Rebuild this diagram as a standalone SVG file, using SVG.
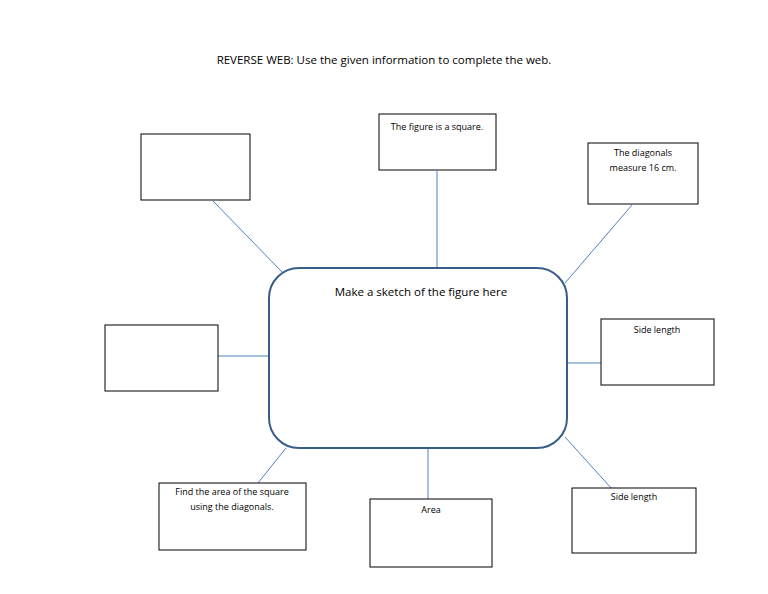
<svg xmlns="http://www.w3.org/2000/svg" width="768" height="594" viewBox="0 0 768 594">
<style>
.b{fill:#fff;stroke:#000;stroke-width:1}
.c{stroke:#4f81bd;stroke-width:1;fill:none}
text{font-family:"Open Sans","Liberation Sans",sans-serif;fill:#000;text-anchor:middle}
.s{font-size:9px}
</style>
<rect width="768" height="594" fill="#fff"/>
<text x="384" y="64" font-size="11.5">REVERSE WEB: Use the given information to complete the web.</text>
<g id="connectors">
<line class="c" x1="213" y1="201" x2="282" y2="272"/>
<line class="c" x1="437" y1="171" x2="437" y2="268"/>
<line class="c" x1="632" y1="205" x2="565" y2="283"/>
<line class="c" x1="218" y1="356" x2="269" y2="356"/>
<line class="c" x1="567" y1="363" x2="602" y2="363"/>
<line class="c" x1="286" y1="448" x2="258" y2="483"/>
<line class="c" x1="428" y1="449" x2="428" y2="499"/>
<line class="c" x1="565" y1="437" x2="612" y2="489"/>
</g>
<g id="center"><rect x="269" y="268" width="298" height="180" rx="30" fill="#fff" stroke="#385d8a" stroke-width="2"/>
<text x="421" y="296" font-size="11.5">Make a sketch of the figure here</text></g>
<g id="n1"><rect class="b" x="141" y="134" width="109" height="66"/></g>
<g id="n2"><rect class="b" x="379" y="114" width="117" height="56"/><text class="s" x="437" y="130">The figure is a square.</text></g>
<g id="n3"><rect class="b" x="588" y="143" width="110" height="61"/><text class="s" x="643" y="156">The diagonals</text><text class="s" x="643" y="171">measure 16 cm.</text></g>
<g id="n4"><rect class="b" x="105" y="325" width="113" height="66"/></g>
<g id="n5"><rect class="b" x="601" y="319" width="113" height="66"/><text class="s" x="657" y="333">Side length</text></g>
<g id="n6"><rect class="b" x="159" y="483" width="147" height="67"/><text class="s" x="232" y="495">Find the area of the square</text><text class="s" x="232" y="510">using the diagonals.</text></g>
<g id="n7"><rect class="b" x="370" y="499" width="122" height="68"/><text class="s" x="431" y="513">Area</text></g>
<g id="n8"><rect class="b" x="572" y="488" width="124" height="65"/><text class="s" x="634" y="500">Side length</text></g>
</svg>
